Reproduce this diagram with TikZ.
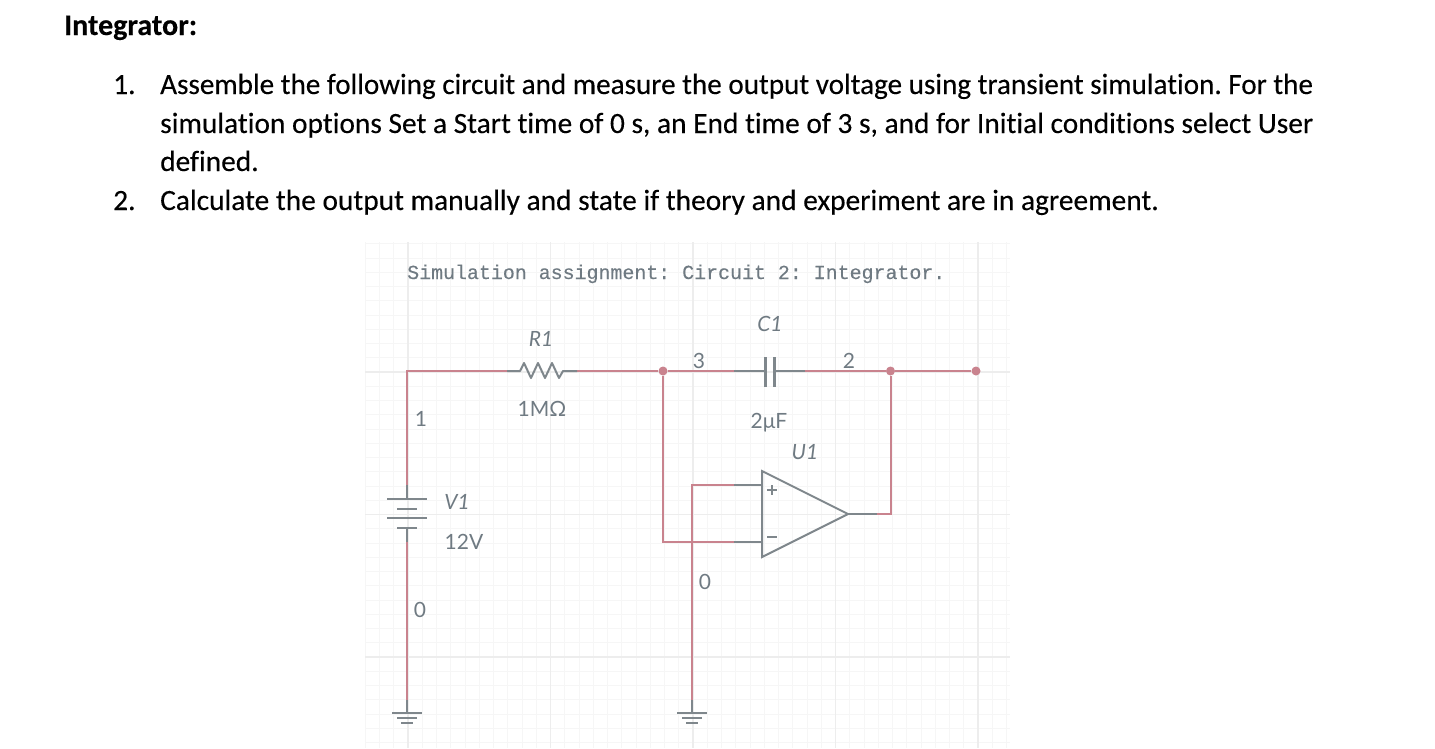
\documentclass[tikz,border=0pt]{standalone}
\usepackage{fontspec}
\setmainfont{Carlito}[Ligatures=NoCommon,FakeBold=0.2]
\newfontfamily\circfont{Lato}
\newfontfamily\monofont{Liberation Mono}[FakeBold=0.25]
\definecolor{wirered}{HTML}{C9838E}
\definecolor{compgray}{HTML}{7F878C}
\definecolor{labgray}{HTML}{6F7A82}
\definecolor{gridminor}{HTML}{F6F6F6}
\definecolor{gridmajor}{HTML}{EDEDED}
\frenchspacing
\tikzset{
  x=1pt,y=-1pt,
  body/.style={inner sep=0pt,anchor=base west,font=\fontsize{29.4}{30}\selectfont,text=black},
  lab/.style={inner sep=0pt,text=labgray,font=\circfont\fontsize{21}{21}\selectfont},
  labit/.style={lab,font=\circfont\itshape\fontsize{21}{21}\selectfont},
  wire/.style={draw=wirered,line width=2pt},
  comp/.style={draw=compgray,line width=2pt},
  dotn/.style={circle,fill=wirered,inner sep=0pt,minimum size=9pt},
}
\begin{document}
\begin{tikzpicture}
\useasboundingbox (0,0) rectangle (1435,748);
\fill[white] (0,0) rectangle (1435,748);
% grid
\foreach \i in {0,...,45} \draw[gridminor,line width=1pt] ({365.25+14.25*\i},242) -- ({365.25+14.25*\i},748);
\foreach \j in {0,...,35} \draw[gridminor,line width=1pt] (365,{243.75+14.25*\j}) -- (1010,{243.75+14.25*\j});
\foreach \xx in {408,550.5,693,835.5,978} \draw[gridmajor,line width=1.6pt] (\xx,242) -- (\xx,748);
\foreach \yy in {372,514.5,657} \draw[gridmajor,line width=1.6pt] (365,\yy) -- (1010,\yy);
% text
\node[body,font=\bfseries\fontsize{30}{30}\selectfont] (title) at (64,35) {Integrator:};
\node[body] (n1) at (113,94) {1.};
\node[body,xscale=0.9914,transform shape] (l1) at (160,94) {Assemble the following circuit and measure the output voltage using transient simulation. For the};
\node[body] (l2) at (160,133) {simulation options Set a Start time of 0 s, an End time of 3 s, and for Initial conditions select User};
\node[body] (l3) at (160,171) {defined.};
\node[body] (n2) at (113,210) {2.};
\node[body] (l4) at (160,210) {Calculate the output manually and state if theory and experiment are in agreement.};
\node[inner sep=0pt,anchor=base west,text=labgray,font=\monofont\fontsize{19.93}{20}\selectfont] (sim) at (407,279) {Simulation assignment: Circuit 2: Integrator.};
% coordinates
\coordinate (tl) at (407,371);
\coordinate (r1a) at (507,371); \coordinate (r1b) at (577,371);
\node[dotn] (j1) at (663,371) {};
\coordinate (c1a) at (734,371); \coordinate (c1b) at (805,371);
\node[dotn] (j2) at (890.5,371) {};
\node[dotn] (out) at (976,371) {};
\coordinate (b1) at (407,485); \coordinate (b2) at (407,542);
\coordinate (g1a) at (407,700); \coordinate (g1b) at (407,713);
\coordinate (g2t) at (692,485); \coordinate (g2a) at (692,700); \coordinate (g2b) at (692,713);
\coordinate (ipw) at (734,485); \coordinate (ip) at (762,485);
\coordinate (imc) at (663,542); \coordinate (imw) at (734,542); \coordinate (im) at (762,542);
\coordinate (oa) at (848,514); \coordinate (ow) at (877,514); \coordinate (oc) at (890.5,514);
% wires
\draw[wire,line join=miter] (b1) -- (tl) -- (r1a);
\draw[wire] (r1b) -- (j1) -- (c1a);
\draw[wire] (c1b) -- (j2) -- (out);
\draw[wire] (j1) -- (imc) -- (imw);
\draw[wire] (g2a) -- (g2t) -- (ipw);
\draw[wire] (ow) -- (oc) -- (j2);
\draw[wire] (b2) -- (g1a);
% resistor
\draw[comp,line join=round] (r1a) -- (520,371) -- (524,363) -- (531,378) -- (538,363) -- (545,378) -- (552,363) -- (559,378) -- (563,371) -- (r1b);
% capacitor
\draw[comp] (c1a) -- (765.5,371) (c1b) -- (774,371);
\draw[compgray,line width=3pt] (765.5,357) -- (765.5,387) (774,357) -- (774,387);
% battery
\draw[comp] (b1) -- (407,499) (387,499) -- (427,499) (397,509) -- (417,509) (387,518) -- (427,518) (397,528) -- (417,528) (407,528) -- (b2);
% grounds
\foreach \g/\gx in {g1b/407,g2b/692}{
  \draw[comp] (\gx,700) -- (\g) ({\gx-15},713) -- ({\gx+15},713) ({\gx-10},718) -- ({\gx+10},718) ({\gx-6},723) -- ({\gx+6},723);
}
% opamp
\draw[comp,line join=miter] (762,471) -- (oa) -- (762,557) -- cycle;
\draw[comp] (ipw) -- (ip) (imw) -- (im) (oa) -- (ow);
\draw[compgray,line width=1.6pt] (767,490) -- (777,490) (772,485) -- (772,495) (767,537) -- (777,537);
% labels
\node[lab] (la1) at (421,419) {1};
\node[lab] (la0) at (420,610) {0};
\node[labit] (lv1) at (457,502) {V1};
\node[lab] (lv) at (464,542) {12V};
\node[labit] (lr1) at (541,339) {R1};
\node[lab] (lr) at (542,409) {1MΩ};
\node[lab] (la3) at (699,361) {3};
\node[labit] (lc1) at (770,324) {C1};
\node[lab] (la2) at (849,361) {2};
\node[lab] (lc) at (769,423) {2μF};
\node[labit] (lu1) at (805,452) {U1};
\node[lab] (la0b) at (705,582) {0};
\end{tikzpicture}
\end{document}
